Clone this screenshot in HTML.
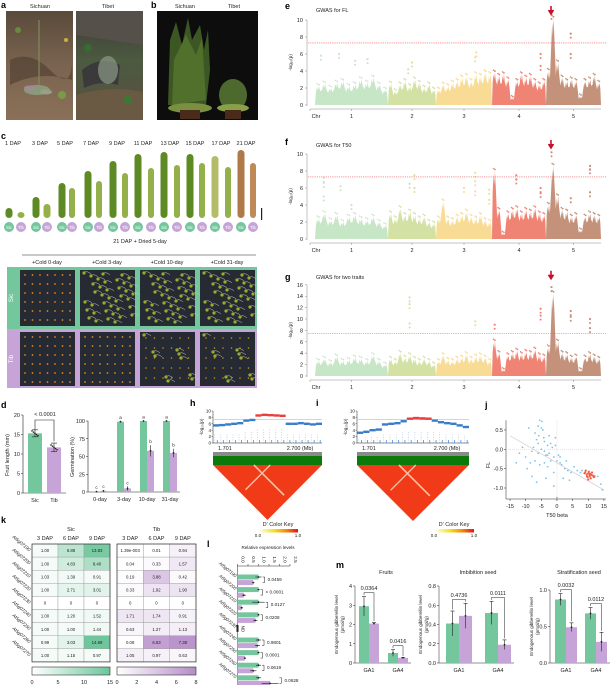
<!DOCTYPE html>
<html><head><meta charset="utf-8">
<style>
html,body{margin:0;padding:0;background:#fff;}
svg{display:block;font-family:"Liberation Sans",Arial,sans-serif;}
text{fill:#222;}
.L{font-weight:bold;font-size:9px;fill:#000;}
.t{font-size:5.5px;}
.s{font-size:4.6px;}
</style></head>
<body>
<svg id="fig" xmlns="http://www.w3.org/2000/svg" width="612" height="685" viewBox="0 0 612 685">
<defs>
<linearGradient id="gSic" x1="0" x2="1"><stop offset="0" stop-color="#ffffff"/><stop offset="1" stop-color="#6cc59a"/></linearGradient>
<linearGradient id="gTib" x1="0" x2="1"><stop offset="0" stop-color="#ffffff"/><stop offset="1" stop-color="#b48cc8"/></linearGradient>
<linearGradient id="gLD" x1="0" x2="1"><stop offset="0" stop-color="#ffffff"/><stop offset="0.4" stop-color="#f5e020"/><stop offset="0.7" stop-color="#f58a10"/><stop offset="1" stop-color="#e81010"/></linearGradient>
<linearGradient id="gPhotoA" x1="0" y1="0" x2="0" y2="1"><stop offset="0" stop-color="#5a4a3a"/><stop offset="0.5" stop-color="#7a6450"/><stop offset="1" stop-color="#8a7058"/></linearGradient>
<linearGradient id="gPhotoB" x1="0" y1="0" x2="0" y2="1"><stop offset="0" stop-color="#3c3a36"/><stop offset="0.45" stop-color="#4c5a40"/><stop offset="1" stop-color="#5a5040"/></linearGradient>
</defs>

<text class="L" x="1" y="8">a</text>
<text class="L" x="151" y="8">b</text>
<text class="L" x="1" y="139">c</text>
<text class="L" x="1" y="408">d</text>
<text class="L" x="285" y="9">e</text>
<text class="L" x="285" y="145">f</text>
<text class="L" x="285" y="280">g</text>
<text class="L" x="190" y="406">h</text>
<text class="L" x="316" y="406">i</text>
<text class="L" x="485" y="408">j</text>
<text class="L" x="1" y="523">k</text>
<text class="L" x="207" y="547">l</text>
<text class="L" x="336" y="568">m</text>

<g>
<text class="t" x="40" y="8" text-anchor="middle">Sichuan</text>
<text class="t" x="108" y="8" text-anchor="middle">Tibet</text>
<rect x="6" y="11" width="67" height="109" fill="url(#gPhotoA)"/>
<path d="M10 60 Q30 50 50 70 T72 65 L72 80 Q40 70 10 85Z" fill="#4d3c2e" opacity="0.6"/>
<line x1="39" y1="20" x2="39" y2="90" stroke="#7e8a60" stroke-width="1.2"/>
<ellipse cx="37" cy="90" rx="13" ry="5" fill="#8a9a78"/>
<ellipse cx="30" cy="88" rx="6" ry="2.5" fill="#a08a98"/>
<ellipse cx="46" cy="92" rx="6" ry="2.5" fill="#98a088"/>
<circle cx="18" cy="30" r="3" fill="#6a8a40"/><circle cx="62" cy="95" r="4" fill="#7a9a48"/><circle cx="66" cy="40" r="2" fill="#c8b040"/>
<rect x="76" y="11" width="67" height="109" fill="url(#gPhotoB)"/>
<path d="M76 11 H143 V45 Q110 40 76 35Z" fill="#55504a"/>
<path d="M82 70 Q100 55 120 65 L118 85 Q100 80 84 88Z" fill="#3a3a3a"/>
<ellipse cx="108" cy="70" rx="10" ry="14" fill="#8a9a88" opacity="0.7"/>
<path d="M76 95 Q110 85 143 92 V120 H76Z" fill="#6a5a44"/>
<circle cx="88" cy="48" r="4" fill="#3a6a30"/><circle cx="128" cy="100" r="4" fill="#3a7a30"/>
</g>
<g>
<text class="t" x="185" y="8" text-anchor="middle">Sichuan</text>
<text class="t" x="234" y="8" text-anchor="middle">Tibet</text>
<rect x="157" y="11" width="101" height="109" fill="#0d0d0d"/>
<path d="M168 105 L170 40 L176 22 L182 45 L188 18 L192 40 L200 25 L204 50 L208 30 L210 70 L206 105Z" fill="#4a6a2a" opacity="0.8"/>
<path d="M172 105 L174 60 L186 35 L196 55 L202 38 L206 100Z" fill="#5a7a30" opacity="0.7"/>
<ellipse cx="190" cy="108" rx="22" ry="5" fill="#7a9040"/>
<rect x="180" y="110" width="20" height="9" fill="#4a2a1a"/>
<ellipse cx="233" cy="95" rx="14" ry="16" fill="#5a7a34" opacity="0.85"/>
<ellipse cx="233" cy="108" rx="16" ry="4" fill="#8aa048"/>
<rect x="225" y="110" width="16" height="9" fill="#4a2a1a"/>
</g>

<g id="pc"></g>
<g id="pseed"></g>
<g id="pd"></g>
<g id="pe"></g>
<g id="pf"></g>
<g id="pg"></g>
<g id="ph"></g>
<g id="pi"></g>
<g id="pj"></g>
<g id="pk"></g>
<g id="pl"></g>
<g id="pm"></g>
</svg>

<script>
const chrNames = ['1','2','3','4','5'];
const flChr1 = [2.2,2.5,2.0,2.6,2.8,2.2,2.4,3.0,2.6,3.2,2.4,1.8];
const flChr2 = [2.5,1.6,2.4,2.8,2.2,3.0,2.6,2.0,2.4,1.8];
const flChr3 = [1.8,2.4,2.2,2.6,2.8,3.2,3.4,2.8,3.6,3.4,3.8,3.6];
const flChr4 = [3.8,3.4,3.6,3.0,0.8,2.8,3.6,3.2,3.4,2.8,2.4,2.8];
const flChr5 = [4.0,10.2,5.0,3.2,2.8,3.0,2.8,1.0,2.8,3.0,3.4,2.6];
const flOut = [[1,0.08,5.8],[1,0.33,6.0],[1,0.55,5.2],[1,0.72,5.4],[2,0.42,4.2],[2,0.5,5.0],[3,0.72,6.2],[3,0.7,5.6],[4,0.9,6.0],[4,0.9,4.6],[5,0.45,8.4],[5,0.45,6.0],[5,0.1,10.6]];
const t5Chr1 = [2.4,3.0,2.2,2.8,2.0,2.6,2.8,2.4,2.2,2.6,2.0,1.6];
const t5Chr2 = [3.0,2.4,3.6,2.8,3.2,2.8,2.4,2.6,2.0,1.8];
const t5Chr3 = [2.4,4.4,2.4,2.2,2.6,2.8,3.2,2.6,2.4,2.8,2.2,2.0];
const t5Chr4 = [8.0,3.4,0.6,3.0,3.4,3.6,3.0,3.4,3.2,3.6,3.0,2.8];
const t5Chr5 = [4.0,8.6,5.0,3.4,3.2,2.6,2.8,1.0,2.6,3.0,2.8,2.6];
const t5Out = [[1,0.12,7.2],[1,0.12,6.6],[1,0.12,5.0],[1,0.35,6.2],[1,0.5,4.0],[2,0.45,6.5],[2,0.55,7.5],[2,0.55,6.0],[3,0.5,6.0],[3,0.7,7.8],[3,0.7,6.8],[3,0.7,5.6],[3,0.95,5.8],[3,0.95,4.6],[4,0.45,7.5],[4,0.45,7.0],[4,0.9,6.0],[4,0.9,5.4],[5,0.1,10.2],[5,0.8,8.6],[5,0.8,8.2],[5,0.8,5.5],[5,0.45,4.8]];
const twChr1 = [2.6,3.0,2.4,3.4,2.6,2.8,3.2,3.0,2.6,3.6,2.6,2.0];
const twChr2 = [3.0,2.6,4.0,3.2,3.6,3.0,2.6,3.0,2.6,2.0];
const twChr3 = [2.6,3.6,2.8,2.6,3.0,3.2,3.8,3.0,3.4,3.6,3.2,2.6];
const twChr4 = [6.0,4.0,1.0,3.6,4.0,4.4,3.8,4.2,4.0,4.6,3.6,3.4];
const twChr5 = [5.0,14.5,6.0,4.0,3.8,3.2,3.4,1.0,3.2,3.8,3.4,3.0];
const twOut = [[2,0.45,13.8],[2,0.45,12.6],[2,0.45,9.2],[3,0.7,9.6],[4,0.05,9.0],[4,0.9,11.8],[4,0.9,10.6],[5,0.1,15.6],[5,0.45,11.4],[5,0.45,10.4],[5,0.8,10.0],[5,0.8,8.4]];

const dapLabels = ['1 DAP','3 DAP','5 DAP','7 DAP','9 DAP','11 DAP','13 DAP','15 DAP','17 DAP','21 DAP'];
const fruitSic = [10,21,35,47,57,64,66,64,62,68];
const fruitTib = [6,14,30,37,45,50,53,55,51,55];

const dGroups = ['Sic','Tib'];
const dFruitLen = [15.3,11.7];
const dFruitSd = [0.9,1.1];
const germDays = ['0-day','3-day','10-day','31-day'];
const germSic = [0.5,99,100,100];
const germTib = [1.5,5,58,55];
const germSdTib = [1,3,8,6];
const germLetSic = ['c','a','a','a'];
const germLetTib = ['c','c','b','b'];

const hBand = [5.5,5.6,5.8,6.0,6.2,7.0,7.2,8.6,8.8,8.7,8.6,8.5,6.0,6.0,6.2,6.0,5.8,6.0];
const iBand = [3.2,3.5,4.0,4.2,5.8,6.0,6.2,6.8,7.6,7.8,7.7,7.6,7.0,6.5,6.2,6.0,5.5,5.0];

const jBlue = [[-5.5,0.75],[-4.8,0.72],[-6,0.6],[-5,0.55],[-4.5,0.5],[-7,0.42],[-5.8,0.35],[-4.2,0.3],[-6.5,0.25],[-9,0.55],[-3,0.1],[-2,0.15],[-7.5,0.05],[-8,-0.05],[-6,-0.1],[-5,0.0],[-4,-0.05],[-3.5,-0.15],[-2.5,-0.1],[-1.5,0.05],[-1,-0.2],[0,-0.3],[1,-0.35],[0.5,-0.15],[-0.5,0.1],[-2.5,0.35],[-8.5,-0.35],[-7,-0.3],[-9.5,-0.5],[-5.5,-0.4],[-4,-0.35],[-3,-0.45],[-8,-0.7],[-6.5,-0.85],[-3.5,-0.75],[-1,-0.6],[1.5,-0.4],[2.5,-0.5],[3.5,-0.55],[4.5,-0.6],[5.5,-0.45],[6.5,-0.55],[2,-0.75],[4,-0.8],[7.5,-0.6],[8,-0.55],[-12,-0.1],[-11,0.05],[-10,-0.2],[14,-0.9],[14.5,-1.05],[13,-0.7],[0,-1.25],[-1,-0.95],[-0.5,0.3],[-3,-0.15],[-2,-0.3],[1,-0.2],[3,-0.3],[-13,-0.35],[-6,0.15],[-4,0.2]];
const jRed = [[9,-0.6],[9.5,-0.65],[10,-0.62],[10.5,-0.7],[11,-0.66],[9.8,-0.72],[10.2,-0.58],[11.5,-0.68],[10.8,-0.75],[9.2,-0.55],[10.4,-0.66],[11.2,-0.6],[9.6,-0.7],[10,-0.78],[12,-0.7],[8.8,-0.62],[10.6,-0.63],[11.8,-0.72]];
const jFit = [[-15,0.35],[15,-1.05]];

const genes = ['At5g07190','At5g07200','At5g07210','At5g07220','At5g07230','At5g07240','At5g07250','At5g07260','At5g07270'];
const kCols = ['3 DAP','6 DAP','9 DAP'];
const kSic = [[1.00,6.88,13.83],[1.00,4.83,8.40],[1.03,1.39,0.91],[1.00,2.71,3.01],[0,0,0],[1.00,1.20,1.52],[1.00,1.00,1.44],[0.99,3.03,14.69],[1.00,1.15,0.97]];
const kTib = [[0.00139,0.01,0.94],[0.04,0.33,1.57],[0.19,3.88,0.42],[0.33,1.92,1.90],[0,0,0],[1.71,1.74,0.91],[0.63,1.27,1.13],[0.08,6.53,7.38],[1.05,0.97,0.63]];

const lSic = [1.0,1.0,1.0,1.0,null,1.0,1.0,1.0,1.0];
const lTib = [0.75,0.3,0.2,0.85,null,0.95,0.35,0.75,1.55];
const lSdSic = [0.15,0.05,0.3,0.05,0,0.12,0.05,0.12,0.12];
const lSdTib = [0.05,0.1,0.06,0.1,0,0.12,0.04,0.15,0.4];
const lP = ['0.0459','< 0.0001','0.0127','0.0208','','0.9801','0.0001','0.0619','0.0628'];

const mTitles = ['Fruits','Imbibition seed','Stratification seed'];
const mCats = ['GA1','GA4'];
const mSic = [[2.95,0.52],[0.41,0.52],[0.87,0.68]];
const mTib = [[2.05,0.27],[0.49,0.19],[0.49,0.29]];
const mSdSic = [[0.5,0.17],[0.13,0.12],[0.08,0.08]];
const mSdTib = [[0.05,0.02],[0.13,0.05],[0.06,0.13]];
const mP = [['0.0364','0.0416'],['0.4736','0.0111'],['0.0032','0.0112']];
const mMax = [4,0.8,1.0];
const mTicks = [[0,1,2,3,4],[0,0.2,0.4,0.6,0.8],[0,0.5,1.0]];

const NS='http://www.w3.org/2000/svg';
function mk(tag, attrs, parent){const e=document.createElementNS(NS,tag);for(const k in attrs)e.setAttribute(k,attrs[k]);parent.appendChild(e);return e;}
function tx(str, x, y, parent, extra){const e=mk('text',Object.assign({x:x,y:y},extra||{}),parent);e.textContent=str;return e;}
const GREEN='#74c69d', PURP='#c6a4d8';

(function(){
 const g=document.getElementById('pc');
 const base=218, pairX=[[9,21],[36,47],[62,72],[88,99],[113,125],[138,151],[164,177],[190,202],[215,228],[241,253]];
 const labX=[13,40,65,91,117,143,170,195,221,246];
 dapLabels.forEach((d,i)=>{
  const t=tx(d,labX[i],145,g,{'class':'t','text-anchor':'middle'});
  
  
  [[fruitSic[i],pairX[i][0],0],[fruitTib[i],pairX[i][1],1]].forEach(([h,x,k])=>{
   let col = k===0?'#5e8a24':'#94b04a';
   if(i===9) col = k===0?'#b07a48':'#c08a58';
   if(i===8&&k===0) col='#b4bc6a';
   const w = i<2?7:(k===0?7:6);
   const f=mk('rect',{x:x-w/2,y:base-h,width:w,height:h,rx:w/2,fill:col},g);
   
   
   const c=mk('circle',{cx:x,cy:227,r:5,fill:k===0?GREEN:PURP},g);
   
   
   tx(k===0?'Sic':'Tib',x,228.8,g,{'class':'s','text-anchor':'middle',style:'fill:#fff;font-size:4.2px'});
  });
 });
 mk('rect',{x:261,y:208,width:1.2,height:12,fill:'#222'},g);
 tx('21 DAP + Dried 5-day',140,243,g,{'class':'t','text-anchor':'middle'});
 mk('line',{x1:22,y1:255,x2:256,y2:255,stroke:'#222','stroke-width':0.6},g);
 const cl=['+Cold 0-day','+Cold 3-day','+Cold 10-day','+Cold 31-day'];
 cl.forEach((s,i)=>tx(s,47+i*60,264,g,{'class':'t','text-anchor':'middle'}));
 const p=document.getElementById('pseed');
 mk('rect',{x:7,y:267,width:250,height:62,fill:'#74c69d'},p);
 mk('rect',{x:7,y:329,width:250,height:59,fill:'#c6a4d8'},p);
 tx('Sic',13,298,p,{'class':'t',style:'fill:#fff;font-size:6px','text-anchor':'middle',transform:'rotate(-90 13 298)'});
 tx('Tib',13,359,p,{'class':'t',style:'fill:#fff;font-size:6px','text-anchor':'middle',transform:'rotate(-90 13 359)'});
 const rows=[[270,56],[332,54]];
 rows.forEach((r,ri)=>{
  for(let c=0;c<4;c++){
   const x=20+c*60, y=r[0], w=55, h=r[1];
   const im=mk('rect',{x:x,y:y,width:w,height:h,fill:'#262a33'},p);
   
   
   const dots = (c===0) || (ri===1 && c===1);
   if(dots){
    for(let a=0;a<6;a++)for(let b=0;b<7;b++) mk('circle',{cx:x+5+b*7.5,cy:y+5+a*9,r:0.9,fill:'#e08a20'},p);
   } else {
    const dens = ri===0?38:10;
    for(let n=0;n<dens;n++){
     const px=x+3+((n*37)%50), py=y+3+((n*23)%(h-6));
     mk('path',{d:`M${px} ${py} q4 -3 8 1`,stroke:'#c8c8b8','stroke-width':0.5,fill:'none'},p);
     mk('circle',{cx:px+1,cy:py,r:1.6,fill:'#9aac2e'},p);
    }
    if(ri===1){for(let a=0;a<5;a++)for(let b=0;b<6;b++) mk('circle',{cx:x+6+b*8.5,cy:y+6+a*10,r:0.8,fill:'#d08a20'},p);}
   }
  }
 });
})();

(function(){
 const g=document.getElementById('pd');
 const x0=23, yb=493, sc=3.9; const y=v=>yb-v*sc;
 mk('line',{x1:x0,y1:yb,x2:x0,y2:y(20),stroke:'#222','stroke-width':0.6},g);
 mk('line',{x1:x0,y1:yb,x2:66,y2:yb,stroke:'#222','stroke-width':0.6},g);
 [0,5,10,15,20].forEach(v=>{mk('line',{x1:x0-2,y1:y(v),x2:x0,y2:y(v),stroke:'#222','stroke-width':0.5},g);tx(String(v),x0-3,y(v)+2,g,{'class':'t','text-anchor':'end'});});
 tx('Fruit length (mm)',9,455,g,{'class':'t','text-anchor':'middle',transform:'rotate(-90 9 455)'});
 dFruitLen.forEach((v,i)=>{
  const bx=28+i*19;
  const b=mk('rect',{x:bx,y:y(v),width:14,height:v*sc,fill:i?PURP:GREEN},g);
  
  
  mk('line',{x1:bx+7,y1:y(v+dFruitSd[i]),x2:bx+7,y2:y(v-dFruitSd[i]),stroke:'#222','stroke-width':0.6},g);
  mk('line',{x1:bx+4,y1:y(v+dFruitSd[i]),x2:bx+10,y2:y(v+dFruitSd[i]),stroke:'#222','stroke-width':0.6},g);
  mk('line',{x1:bx+4,y1:y(v-dFruitSd[i]),x2:bx+10,y2:y(v-dFruitSd[i]),stroke:'#222','stroke-width':0.6},g);
  for(let k=0;k<5;k++) mk('circle',{cx:bx+4+k*1.5,cy:y(v)+(k-2)*1.2,r:0.8,fill:'#222'},g);
  tx(dGroups[i],bx+7,502,g,{'class':'t','text-anchor':'middle'});
 });
 mk('path',{d:`M35 ${y(15.3)-3} V420 H54 V${y(11.7)-6}`,stroke:'#222','stroke-width':0.6,fill:'none'},g);
 tx('< 0.0001',45,416,g,{'class':'t','text-anchor':'middle'});
 const gx=88, gb=492, gs=0.71; const gy=v=>gb-v*gs;
 mk('line',{x1:gx,y1:gb,x2:gx,y2:gy(100),stroke:'#222','stroke-width':0.6},g);
 mk('line',{x1:gx,y1:gb,x2:180,y2:gb,stroke:'#222','stroke-width':0.6},g);
 [0,25,50,75,100].forEach(v=>{mk('line',{x1:gx-2,y1:gy(v),x2:gx,y2:gy(v),stroke:'#222','stroke-width':0.5},g);tx(String(v),gx-3,gy(v)+2,g,{'class':'t','text-anchor':'end'});});
 tx('Germination (%)',74,457,g,{'class':'t','text-anchor':'middle',transform:'rotate(-90 74 457)'});
 const cx=[100,124,147,170];
 germDays.forEach((d,i)=>{
  [[germSic[i],0,germLetSic[i]],[germTib[i],1,germLetTib[i]]].forEach(([v,k,let_])=>{
   const bx=cx[i]-7+k*7;
   const b=mk('rect',{x:bx,y:gy(v),width:7,height:v*gs,fill:k?PURP:GREEN},g);
   
   
   const sd=k?germSdTib[i]:0.8;
   mk('line',{x1:bx+3.5,y1:gy(v+sd),x2:bx+3.5,y2:gy(Math.max(0,v-sd)),stroke:'#222','stroke-width':0.6},g);
   mk('circle',{cx:bx+3.5,cy:gy(v),r:0.9,fill:'#222'},g);
   tx(let_,bx+3.5,gy(v+sd)-2,g,{'class':'s','text-anchor':'middle'});
  });
  tx(d,cx[i],501,g,{'class':'t','text-anchor':'middle'});
 });
})();

const chrStart=[315,388,436,492,546], chrEnd=[388,436,492,546,601];
const chrCol=['#c6e6c6','#d3e2a4','#f8dc96','#ef8474','#c4917a'];
function manhattan(id,title,titleY,chrs,outs,base,pxu,ticks,thr){
 const g=document.getElementById(id);
 const t=tx(title,316,titleY,g,{'class':'t'});
 
 
 const y=v=>base-v*pxu;
 mk('line',{x1:307,y1:base+1,x2:307,y2:y(ticks[ticks.length-1]),stroke:'#888','stroke-width':0.5},g);
 ticks.forEach(v=>{mk('line',{x1:305,y1:y(v),x2:307,y2:y(v),stroke:'#888','stroke-width':0.5},g);tx(String(v),303,y(v)+2,g,{'class':'t','text-anchor':'end'});});
 const my=(y(ticks[0])+y(ticks[ticks.length-1]))/2;
 tx('-log\u2081\u2080(p)',292,my,g,{'class':'s','text-anchor':'middle',transform:`rotate(-90 292 ${my})`});
 chrs.forEach((arr,c)=>{
  const x0=chrStart[c], x1=chrEnd[c], w=(x1-x0)/arr.length;
  let pts=[[x0,base]];
  arr.forEach((h,i)=>{const xl=x0+i*w;pts.push([xl+w*0.15,y(h*0.7)],[xl+w*0.35,y(h*0.95)],[xl+w*0.5,y(h*0.8)],[xl+w*0.65,y(h)],[xl+w*0.85,y(h*0.75)]);});
  pts.push([x1,base]);
  const p=mk('polygon',{points:pts.map(q=>q.join(',')).join(' '),fill:chrCol[c]},g);
  
  
  arr.forEach((h,i)=>{const xl=x0+i*w;mk('circle',{cx:xl+w*0.65,cy:y(h)-1.5,r:0.9,fill:chrCol[c]},g);mk('circle',{cx:xl+w*0.35,cy:y(h)-2.5,r:0.8,fill:chrCol[c]},g);});
 });
 outs.forEach(o=>{
  const c=o[0]-1, x=chrStart[c]+o[1]*(chrEnd[c]-chrStart[c]);
  const d=mk('circle',{cx:x,cy:y(o[2]),r:1.1,fill:chrCol[c]},g);
  
  
  mk('circle',{cx:x,cy:y(o[2])+4,r:1,fill:chrCol[c]},g);
 });
 const th=mk('line',{x1:308,y1:y(thr),x2:607,y2:y(thr),stroke:'#f05050','stroke-width':0.6,'stroke-dasharray':'1.2 1'},g);
 
 
 mk('line',{x1:310,y1:base+4,x2:601,y2:base+4,stroke:'#888','stroke-width':0.5},g);
 tx('Chr',316,base+13,g,{'class':'t','text-anchor':'middle'});
 chrNames.forEach((n,c)=>{const x=(chrStart[c]+chrEnd[c])/2;mk('line',{x1:x,y1:base+4,x2:x,y2:base+6,stroke:'#888','stroke-width':0.5},g);tx(n,x,base+13,g,{'class':'t','text-anchor':'middle'});});
 mk('line',{x1:310,y1:base+4,x2:310,y2:base+6,stroke:'#888','stroke-width':0.5},g);
 const ay=y(ticks[ticks.length-1])-14;
 const ar=mk('path',{d:`M551 ${ay} V${ay+6} M548.5 ${ay+4} L551 ${ay+8} L553.5 ${ay+4}`,stroke:'#c8102e','stroke-width':1.6,fill:'#c8102e'},g);
 
 
}
manhattan('pe','GWAS for FL',12,[flChr1,flChr2,flChr3,flChr4,flChr5],flOut,105,8.5,[0,2,4,6,8,10],7.3);
manhattan('pf','GWAS for T50',147,[t5Chr1,t5Chr2,t5Chr3,t5Chr4,t5Chr5],t5Out,239,8.5,[0,2,4,6,8,10],7.3);
manhattan('pg','GWAS for two traits',279,[twChr1,twChr2,twChr3,twChr4,twChr5],twOut,376,5.7,[0,2,4,6,8,10,12,14,16],7.5);

function ld(id,band,x0,x1,apexY,keyX){
 const g=document.getElementById(id);
 const base=443, sc=3.2, y=v=>base-v*sc;
 mk('line',{x1:x0,y1:base,x2:x0,y2:y(10),stroke:'#222','stroke-width':0.5},g);
 [0,2,4,6,8,10].forEach(v=>{mk('line',{x1:x0-1.5,y1:y(v),x2:x0,y2:y(v),stroke:'#222','stroke-width':0.4},g);tx(String(v),x0-2,y(v)+1.6,g,{'class':'s','text-anchor':'end'});});
 tx('-log\u2081\u2080(p)',x0-10,427,g,{'class':'s','text-anchor':'middle',transform:`rotate(-90 ${x0-10} 427)`});
 mk('line',{x1:x0,y1:base,x2:x1,y2:base,stroke:'#222','stroke-width':0.5},g);
 mk('line',{x1:x0,y1:y(7.3),x2:x1,y2:y(7.3),stroke:'#f6a0a0','stroke-width':0.6},g);
 const w=(x1-x0)/band.length;
 band.forEach((v,i)=>{
  const col=v>7.3?'#e84040':'#3a7ec8';
  const r=mk('rect',{x:x0+i*w,y:y(v)-1.2,width:w,height:2.4,fill:col},g);
  
  
  mk('line',{x1:x0+i*w+w*0.3,y1:base,x2:x0+i*w+w*0.3,y2:y(v*0.5),stroke:'#6aa0d8','stroke-width':0.4,'stroke-dasharray':'1 1.5'},g);
  mk('line',{x1:x0+i*w+w*0.7,y1:base,x2:x0+i*w+w*0.7,y2:base-3,stroke:'#3a7ec8','stroke-width':0.7},g);
 });
 tx('1.701',x0+5,450,g,{'class':'t','text-anchor':'start'});
 tx('2.700 (Mb)',x1-22,450,g,{'class':'t','text-anchor':'middle'});
 mk('rect',{x:x0,y:452,width:x1-x0,height:6,fill:'#8a8a8a'},g);
 mk('rect',{x:x0,y:456,width:x1-x0,height:9,fill:'#0a7a0a'},g);
 const tri=mk('polygon',{points:`${x0},465 ${x1},465 ${(x0+x1)/2},${apexY}`,fill:'#f03a18'},g);
 
 
 const hh=apexY-465, half=(x1-x0)/2;
 mk('line',{x1:x0+half*0.75,y1:465,x2:x0+half*0.75+hh*0.55,y2:465+hh*0.55,stroke:'#f4c0a0','stroke-width':1.6},g);
 mk('line',{x1:x0+half*1.05,y1:465,x2:x0+half*1.05-hh*0.45,y2:465+hh*0.45,stroke:'#f4c0a0','stroke-width':1.4},g);
 tx("D' Color Key",keyX+10,526,g,{'class':'t','text-anchor':'middle'});
 mk('rect',{x:keyX-10,y:529,width:40,height:3.5,fill:'url(#gLD)'},g);
 tx('0.0',keyX-10,537,g,{'class':'s','text-anchor':'middle'});
 tx('1.0',keyX+30,537,g,{'class':'s','text-anchor':'middle'});
}
ld('ph',hBand,213,322,520,268);
ld('pi',iBand,357,469,521,444);

(function(){
 const g=document.getElementById('pj');
 const X=v=>510+(v+15)*3.13, Y=v=>449.3-v*38.7;
 mk('line',{x1:X(0),y1:Y(0.75),x2:X(0),y2:498,stroke:'#ccc','stroke-width':0.5,'stroke-dasharray':'1 1'},g);
 mk('line',{x1:508,y1:Y(0),x2:606,y2:Y(0),stroke:'#ccc','stroke-width':0.5,'stroke-dasharray':'1 1'},g);
 mk('line',{x1:506,y1:Y(0.75),x2:506,y2:499,stroke:'#222','stroke-width':0.5},g);
 mk('line',{x1:506,y1:499,x2:606,y2:499,stroke:'#222','stroke-width':0.5},g);
 [0.5,0,-0.5,-1].forEach(v=>{mk('line',{x1:504,y1:Y(v),x2:506,y2:Y(v),stroke:'#222','stroke-width':0.5},g);tx(v.toFixed(1),503,Y(v)+2,g,{'class':'t','text-anchor':'end'});});
 [-15,-10,-5,0,5,10,15].forEach(v=>{mk('line',{x1:X(v),y1:499,x2:X(v),y2:501,stroke:'#222','stroke-width':0.5},g);tx(String(v),X(v),508,g,{'class':'t','text-anchor':'middle'});});
 tx('T50 beta',557,517,g,{'class':'t','text-anchor':'middle'});
 tx('FL',490,465,g,{'class':'t','text-anchor':'middle',transform:'rotate(-90 490 465)'});
 const fl=mk('line',{x1:X(jFit[0][0]),y1:Y(jFit[0][1]),x2:X(jFit[1][0]),y2:Y(jFit[1][1]),stroke:'#ccc','stroke-width':0.7},g);
 
 
 jBlue.forEach(p=>{const c=mk('circle',{cx:X(p[0]),cy:Y(p[1]),r:0.9,fill:'#7ec4ec'},g);
  
  });
 jRed.forEach(p=>{const c=mk('circle',{cx:X(p[0]),cy:Y(p[1]),r:1.1,fill:'#f0604a'},g);
  
  });
})();

function fmt(v){ if(v===0) return '0'; if(v<0.005) return '1.39e-003'; return v.toFixed(2); }
function mix(c,t){const r=Math.round(255+(c[0]-255)*t),g=Math.round(255+(c[1]-255)*t),b=Math.round(255+(c[2]-255)*t);return `rgb(${r},${g},${b})`;}
(function(){
 const g=document.getElementById('pk');
 const rowH=13.1, top=544;
 const tbl=[[kSic,32,78,15,[108,197,154],'Sic'],[kTib,117,79,8,[180,140,200],'Tib']];
 tbl.forEach(([data,x0,w,max,col,name],ti)=>{
  tx(name,x0+w/2,531,g,{'class':'t','text-anchor':'middle'});
  const cw=w/3;
  kCols.forEach((c,j)=>tx(c,x0+cw*(j+0.5),540,g,{'class':'t','text-anchor':'middle'}));
  data.forEach((row,i)=>row.forEach((v,j)=>{
   const r=mk('rect',{x:x0+j*cw,y:top+i*rowH,width:cw,height:rowH,fill:mix(col,Math.min(1,v/max)),stroke:'#999','stroke-width':0.4},g);
   
   
   tx(fmt(v),x0+(j+0.5)*cw,top+i*rowH+rowH/2+1.6,g,{'class':'s','text-anchor':'middle',style:'font-size:4.3px'});
  }));
  mk('rect',{x:x0,y:top,width:w,height:rowH*9,fill:'none',stroke:'#333','stroke-width':0.7},g);
  const cb=mk('rect',{x:x0,y:667,width:w,height:8,fill:ti?'url(#gTib)':'url(#gSic)',stroke:'#333','stroke-width':0.6},g);
  
  
  const ticks= ti?[0,2,4,6,8]:[0,5,10,15];
  ticks.forEach(tk=>{const x=x0+w*tk/max;tx(String(tk),x,684,g,{'class':'t','text-anchor':'middle'});});
 });
 genes.forEach((gn,i)=>{
  const yy=top+i*rowH+rowH/2+1;
  const t=tx(gn,29,yy,g,{'class':'s','text-anchor':'end',transform:`rotate(40 29 ${yy})`,style:'font-style:italic;font-size:4.6px'});
  
  
 });
})();

(function(){
 const g=document.getElementById('pl');
 const x0=237.5, s=21, X=v=>x0+v*s;
 tx('Relative expression levels',268,549,g,{'class':'s','text-anchor':'middle'});
 mk('line',{x1:X(0),y1:566,x2:X(2.5),y2:566,stroke:'#222','stroke-width':0.5},g);
 mk('line',{x1:X(0),y1:566,x2:X(0),y2:685,stroke:'#222','stroke-width':0.5},g);
 [0,0.5,1,1.5,2,2.5].forEach(v=>{mk('line',{x1:X(v),y1:564,x2:X(v),y2:566,stroke:'#222','stroke-width':0.5},g);tx(v.toFixed(1),X(v)+1.5,554,g,{'class':'s','text-anchor':'middle',transform:`rotate(90 ${X(v)} 558)`});});
 const pitch=12.6;
 genes.forEach((gn,i)=>{
  const yg=574.5+i*pitch;
  const t=tx(gn,235,yg+3,g,{'class':'s','text-anchor':'end',transform:`rotate(40 235 ${yg+3})`,style:'font-style:italic;font-size:4.4px'});
  
  
  if(lSic[i]===null){ tx('ND',X(0)+4,yg+4,g,{'class':'s','text-anchor':'middle',transform:`rotate(90 ${X(0)+4} ${yg+4})`}); mk('rect',{x:X(0)-1,y:yg,width:2,height:7,fill:'#222'},g); return; }
  [[lSic[i],lSdSic[i],GREEN,0],[lTib[i],lSdTib[i],PURP,1]].forEach(([v,sd,c,k])=>{
   const yy=yg+k*5.6;
   const b=mk('rect',{x:X(0),y:yy,width:v*s,height:5,fill:c},g);
   
   
   mk('line',{x1:X(v-sd),y1:yy+2.5,x2:X(v+sd),y2:yy+2.5,stroke:'#222','stroke-width':0.6},g);
   mk('circle',{cx:X(v),cy:yy+2.5,r:0.9,fill:'#222'},g);
  });
  const xr=X(Math.max(lSic[i]+lSdSic[i],lTib[i]+lSdTib[i]))+3;
  mk('path',{d:`M${xr-2} ${yg+2.5} H${xr} V${yg+8} H${xr-2}`,stroke:'#222','stroke-width':0.5,fill:'none'},g);
  tx(lP[i],xr+3,yg+6.5,g,{'class':'s'});
 });
})();

(function(){
 const g=document.getElementById('pm');
 const axX=[355,439,550], titleX=[386,478,579], base=663, top=[586,586,590];
 const gap=[29,39,30], bws=[10,13,11], off=[4,7,5];
 mTitles.forEach((tt,k)=>{
  tx(tt,titleX[k],574,g,{'class':'t','text-anchor':'middle'});
  const sc=(base-top[k])/mMax[k], Y=v=>base-v*sc, x0=axX[k];
  mk('line',{x1:x0,y1:base,x2:x0,y2:Y(mMax[k]),stroke:'#222','stroke-width':0.5},g);
  mk('line',{x1:x0,y1:base,x2:x0+off[k]+gap[k]+2*bws[k]+3,y2:base,stroke:'#222','stroke-width':0.5},g);
  mTicks[k].forEach(v=>{mk('line',{x1:x0-2,y1:Y(v),x2:x0,y2:Y(v),stroke:'#222','stroke-width':0.5},g);tx(k===0?String(v):v.toFixed(1),x0-3,Y(v)+2,g,{'class':'t','text-anchor':'end'});});
  const ly=(base+Y(mMax[k]))/2;
  tx('Endogenous gibberellin level',x0-17,ly,g,{'class':'s','text-anchor':'middle',transform:`rotate(-90 ${x0-17} ${ly})`});
  tx('(pmol/g)',x0-11,ly,g,{'class':'s','text-anchor':'middle',transform:`rotate(-90 ${x0-11} ${ly})`});
  const bw = bws[k];
  mCats.forEach((c,j)=>{
   const gx=x0+off[k]+j*gap[k];
   [[mSic[k][j],mSdSic[k][j],GREEN,0],[mTib[k][j],mSdTib[k][j],PURP,1]].forEach(([v,sd,col,q])=>{
    const bx=gx+q*bw;
    const b=mk('rect',{x:bx,y:Y(v),width:bw,height:v*sc,fill:col},g);
    
    
    mk('line',{x1:bx+bw/2,y1:Y(v+sd),x2:bx+bw/2,y2:Y(Math.max(0,v-sd)),stroke:'#222','stroke-width':0.6},g);
    mk('line',{x1:bx+bw/2-2,y1:Y(v+sd),x2:bx+bw/2+2,y2:Y(v+sd),stroke:'#222','stroke-width':0.6},g);
    mk('circle',{cx:bx+bw/2,cy:Y(v),r:0.9,fill:'#222'},g);
   });
   tx(c,gx+bw,672,g,{'class':'t','text-anchor':'middle'});
   const hi=Math.max(mSic[k][j]+mSdSic[k][j],mTib[k][j]+mSdTib[k][j]);
   const by=Y(hi)-4;
   mk('path',{d:`M${gx+bw/2} ${Y(mSic[k][j]+mSdSic[k][j])-1.5} V${by} H${gx+bw*1.5} V${Y(mTib[k][j]+mSdTib[k][j])-1.5}`,stroke:'#222','stroke-width':0.5,fill:'none'},g);
   tx(mP[k][j],gx+bw,by-2.5,g,{'class':'t','text-anchor':'middle'});
  });
 });
})();
</script>
</body></html>
